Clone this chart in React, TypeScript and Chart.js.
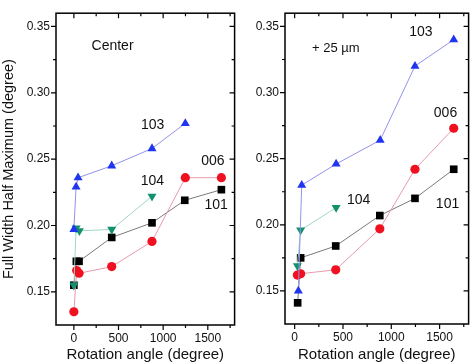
import React, { useEffect, useRef } from 'react';
import { Chart, registerables } from 'chart.js';

Chart.register(...registerables);

// ---------- data: Center panel ----------
const centerAngles103 = [0, 25, 47, 424, 875, 1248];
const centerFwhm103 = [0.197, 0.229, 0.236, 0.245, 0.258, 0.277];
const centerAngles104 = [0, 25, 62, 424, 875];
const centerFwhm104 = [0.155, 0.198, 0.196, 0.197, 0.222];
const centerAngles006 = [0, 32, 58, 424, 875, 1248, 1652];
const centerFwhm006 = [0.135, 0.166, 0.164, 0.169, 0.188, 0.236, 0.236];
const centerAngles101 = [0, 28, 58, 424, 875, 1242, 1652];
const centerFwhm101 = [0.155, 0.173, 0.173, 0.191, 0.202, 0.219, 0.227];

// ---------- data: +25 um panel ----------
const offAngles103 = [38, 73, 429, 885, 1245, 1646];
const offFwhm103 = [0.15, 0.23, 0.246, 0.264, 0.32, 0.34];
const offAngles104 = [28, 62, 429];
const offFwhm104 = [0.169, 0.196, 0.213];
const offAngles006 = [28, 62, 425, 881, 1245, 1646];
const offFwhm006 = [0.162, 0.163, 0.166, 0.197, 0.242, 0.273];
const offAngles101 = [31, 62, 425, 881, 1245, 1646];
const offFwhm101 = [0.141, 0.175, 0.184, 0.207, 0.22, 0.242];

// ---------- ticks ----------
const xMajorTicks = [0, 500, 1000, 1500];
const xMinorTicks = [250, 750, 1250, 1750];
const yMajorTicks = [0.15, 0.2, 0.25, 0.3, 0.35];
const yMinorTicks = [0.175, 0.225, 0.275, 0.325];

const FONT = "'Liberation Sans', Arial, Helvetica, sans-serif";

const BLUE = '#1f35f0';
const BLUE_LINE = '#9292ea';
const RED = '#ef1020';
const RED_LINE = '#e79aac';
const BLACK = '#000000';
const BLACK_LINE = '#7a7a7a';
const GREEN = '#13906d';
const GREEN_LINE = '#9fd8c3';

type Label = { text: string; x: number; y: number; align: CanvasTextAlign; size: number };

const centerLabels: Label[] = [
  { text: 'Center', x: 198, y: 0.3354, align: 'left', size: 14 },
  { text: '103', x: 882, y: 0.2756, align: 'center', size: 14 },
  { text: '104', x: 879, y: 0.2338, align: 'center', size: 14 },
  { text: '006', x: 1556, y: 0.2485, align: 'center', size: 14 },
  { text: '101', x: 1594, y: 0.215, align: 'center', size: 14 },
];
const offLabels: Label[] = [
  { text: '+ 25 \u00B5m', x: 180, y: 0.3334, align: 'left', size: 13 },
  { text: '103', x: 1307, y: 0.346, align: 'center', size: 14 },
  { text: '006', x: 1561, y: 0.2841, align: 'center', size: 14 },
  { text: '104', x: 663, y: 0.2187, align: 'center', size: 14 },
  { text: '101', x: 1582, y: 0.2157, align: 'center', size: 14 },
];

const zip = (xs: number[], ys: number[]) => xs.map((x, i) => ({ x, y: ys[i] }));

function makeDatasets(
  a103: number[], f103: number[], a104: number[], f104: number[],
  a006: number[], f006: number[], a101: number[], f101: number[]
) {
  const base = { showLine: true, borderWidth: 1, clip: false as any };
  return [
    { ...base, label: '103', data: zip(a103, f103), borderColor: BLUE_LINE, backgroundColor: BLUE,
      pointBackgroundColor: BLUE, pointBorderColor: BLUE, pointStyle: 'triangle', pointRadius: 5.2, pointBorderWidth: 0 },
    { ...base, label: '104', data: zip(a104, f104), borderColor: GREEN_LINE, backgroundColor: GREEN,
      pointBackgroundColor: GREEN, pointBorderColor: GREEN, pointStyle: 'triangle', pointRotation: 180, pointRadius: 5.2, pointBorderWidth: 0 },
    { ...base, label: '006', data: zip(a006, f006), borderColor: RED_LINE, backgroundColor: RED,
      pointBackgroundColor: RED, pointBorderColor: RED, pointStyle: 'circle', pointRadius: 4.6, pointBorderWidth: 0 },
    { ...base, label: '101', data: zip(a101, f101), borderColor: BLACK_LINE, backgroundColor: BLACK,
      pointBackgroundColor: BLACK, pointBorderColor: BLACK, pointStyle: 'rect', pointRadius: 5.4, pointBorderWidth: 0 },
  ];
}

const framePlugin = {
  id: 'frame',
  afterDraw(chart: any, _args: any, opts: any) {
    const { ctx, chartArea: a, scales } = chart;
    const xs = scales.x;
    const ys = scales.y;
    ctx.save();
    ctx.strokeStyle = '#000';
    ctx.lineWidth = 1.5;
    ctx.strokeRect(a.left, a.top, a.right - a.left, a.bottom - a.top);
    ctx.lineWidth = 1.2;
    const drawX = (v: number, len: number) => {
      const p = xs.getPixelForValue(v);
      if (p < a.left + 1 || p > a.right - 1) return;
      ctx.beginPath();
      ctx.moveTo(p, a.bottom);
      ctx.lineTo(p, a.bottom + len);
      ctx.moveTo(p, a.top);
      ctx.lineTo(p, a.top + len);
      ctx.stroke();
    };
    const drawY = (v: number, len: number) => {
      const p = ys.getPixelForValue(v);
      if (p < a.top + 1 || p > a.bottom - 1) return;
      ctx.beginPath();
      ctx.moveTo(a.left, p);
      ctx.lineTo(a.left - len, p);
      ctx.moveTo(a.right, p);
      ctx.lineTo(a.right - len, p);
      ctx.stroke();
    };
    xMajorTicks.forEach((v) => drawX(v, 5));
    xMinorTicks.forEach((v) => drawX(v, 3));
    yMajorTicks.forEach((v) => drawY(v, 5));
    yMinorTicks.forEach((v) => drawY(v, 3));

    ctx.fillStyle = '#111';
    ctx.textBaseline = 'middle';
    (opts.labels || []).forEach((l: Label) => {
      ctx.font = `${l.size}px ${FONT}`;
      ctx.textAlign = l.align;
      ctx.fillText(l.text, xs.getPixelForValue(l.x), ys.getPixelForValue(l.y));
    });
    ctx.restore();
  },
};

type PanelProps = {
  width: number;
  xMin: number;
  yWidth: number;
  xHeight: number;
  padRight: number;
  showYTitle: boolean;
  datasets: any[];
  labels: Label[];
};

function Panel(p: PanelProps) {
  const ref = useRef<HTMLCanvasElement | null>(null);
  useEffect(() => {
    if (!ref.current) return;
    const chart = new Chart(ref.current, {
      type: 'scatter',
      data: { datasets: p.datasets },
      plugins: [framePlugin],
      options: {
        responsive: false,
        animation: false,
        layout: { padding: { top: 4, right: p.padRight, left: 0, bottom: 0 } },
        plugins: {
          legend: { display: false },
          tooltip: { enabled: false },
          frame: { labels: p.labels },
        } as any,
        scales: {
          x: {
            type: 'linear',
            min: p.xMin,
            max: 1800,
            grid: { display: false, drawTicks: false },
            border: { display: false },
            afterBuildTicks: (s: any) => {
              s.ticks = xMajorTicks.map((v) => ({ value: v }));
            },
            afterFit: (s: any) => {
              s.height = p.xHeight;
            },
            ticks: {
              padding: 6,
              color: '#111',
              font: { family: FONT, size: 12 },
              maxRotation: 0,
              callback: (v: any) => String(v),
            },
            title: {
              display: true,
              text: 'Rotation angle (degree)',
              color: '#111',
              font: { family: FONT, size: 15 },
              padding: { top: 0, bottom: 0 },
            },
          },
          y: {
            type: 'linear',
            min: 0.125,
            max: 0.36,
            grid: { display: false, drawTicks: false },
            border: { display: false },
            afterBuildTicks: (s: any) => {
              s.ticks = yMajorTicks.map((v) => ({ value: v }));
            },
            afterFit: (s: any) => {
              s.width = p.yWidth;
            },
            ticks: {
              padding: 6,
              color: '#111',
              font: { family: FONT, size: 12 },
              callback: (v: any) => Number(v).toFixed(2),
            },
            title: {
              display: p.showYTitle,
              text: 'Full Width Half Maximum (degree)',
              color: '#111',
              font: { family: FONT, size: 14.5 },
              padding: { top: 0, bottom: 0 },
            },
          },
        },
      } as any,
    });
    return () => chart.destroy();
  }, []);
  return <canvas ref={ref} width={p.width} height={364} style={{ display: 'block' }} />;
}

export default function App() {
  return (
    <div style={{ position: 'fixed', left: 0, top: 0, width: 474, height: 364, background: '#fff', display: 'flex' }}>
      <Panel
        width={240}
        xMin={-200}
        yWidth={56}
        xHeight={39}
        padRight={2}
        showYTitle={true}
        datasets={makeDatasets(centerAngles103, centerFwhm103, centerAngles104, centerFwhm104,
          centerAngles006, centerFwhm006, centerAngles101, centerFwhm101)}
        labels={centerLabels}
      />
      <Panel
        width={234}
        xMin={-100}
        yWidth={45}
        xHeight={40}
        padRight={5}
        showYTitle={false}
        datasets={makeDatasets(offAngles103, offFwhm103, offAngles104, offFwhm104,
          offAngles006, offFwhm006, offAngles101, offFwhm101)}
        labels={offLabels}
      />
    </div>
  );
}
